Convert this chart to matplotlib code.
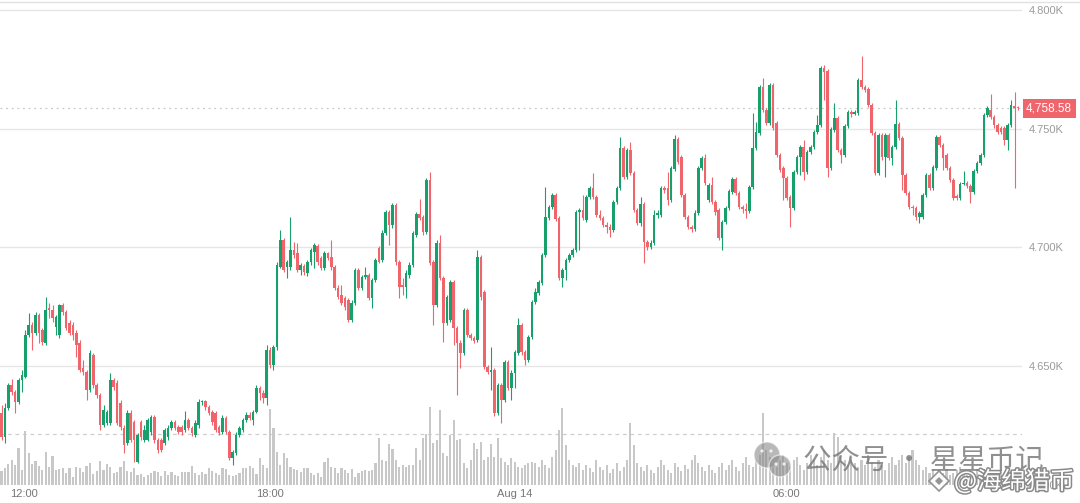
# %%
import numpy as np
import matplotlib.pyplot as plt
from matplotlib import patches, patheffects
from matplotlib.transforms import blended_transform_factory

plt.rcParams["font.family"] = ["Liberation Sans", "Noto Sans CJK SC", "DejaVu Sans"]

# %% Data (5 min candles)
opens = [
    4630.2, 4620.1, 4632.3, 4642.0, 4639.1, 4634.9, 4644.1, 4645.4, 4663.1, 4667.3,
    4663.9, 4671.5, 4665.2, 4659.7, 4674.4, 4673.6, 4666.4, 4663.1, 4675.7, 4672.8,
    4668.1, 4667.3, 4663.9, 4659.7, 4649.1, 4647.5, 4639.9, 4654.6, 4642.0, 4637.8,
    4625.2, 4626.0, 4626.0, 4644.1, 4642.8, 4634.4, 4623.9, 4617.5, 4630.2, 4626.5,
    4609.6, 4626.5, 4618.8, 4618.8, 4622.2, 4628.5, 4618.8, 4618.8, 4617.5, 4620.1,
    4623.9, 4626.5, 4624.3, 4624.3, 4623.0, 4627.3, 4623.9, 4621.0, 4625.2, 4634.9,
    4635.3, 4632.7, 4630.7, 4630.2, 4624.3, 4622.2, 4628.1, 4622.2, 4611.3, 4613.4,
    4621.0, 4623.0, 4627.3, 4629.4, 4627.3, 4630.7, 4640.7, 4638.6, 4636.5, 4656.7,
    4650.4, 4658.0, 4691.7, 4703.1, 4691.7, 4691.7, 4698.9, 4697.6, 4690.5, 4692.1,
    4689.2, 4693.8, 4698.0, 4700.6, 4695.5, 4691.3, 4697.6, 4695.9, 4691.7, 4682.9,
    4679.9, 4678.7, 4677.8, 4669.4, 4676.6, 4690.5, 4682.9, 4687.5, 4688.3, 4678.7,
    4686.2, 4699.7, 4694.7, 4706.0, 4714.9, 4709.4, 4717.8, 4693.8, 4684.1, 4683.3,
    4688.3, 4692.6, 4705.2, 4714.0, 4712.8, 4706.5, 4728.4, 4693.8, 4675.7, 4701.8,
    4687.1, 4668.1, 4669.4, 4685.4, 4666.0, 4659.7, 4655.5, 4673.6, 4663.1, 4661.8,
    4661.0, 4695.9, 4681.2, 4649.6, 4647.5, 4648.3, 4630.2, 4642.0, 4635.7, 4651.7,
    4640.7, 4647.0, 4655.5, 4667.3, 4655.9, 4652.5, 4662.3, 4676.9, 4680.8, 4685.0,
    4696.8, 4712.4, 4717.0, 4722.0, 4712.4, 4687.1, 4690.5, 4694.7, 4696.8, 4698.9,
    4714.9, 4715.7, 4711.5, 4721.2, 4725.0, 4721.2, 4713.6, 4712.4, 4709.4, 4708.6,
    4707.3, 4719.1, 4725.0, 4741.8, 4729.6, 4741.0, 4731.3, 4715.7, 4710.3, 4718.3,
    4702.2, 4700.1, 4701.8, 4713.6, 4713.6, 4725.0, 4725.0, 4719.9, 4733.0, 4745.6,
    4738.1, 4722.0, 4712.8, 4708.6, 4707.7, 4714.5, 4733.4, 4737.6, 4719.9, 4726.3,
    4719.1, 4715.7, 4703.9, 4710.7, 4716.6, 4723.3, 4728.8, 4722.9, 4717.0, 4716.1,
    4715.3, 4725.4, 4741.8, 4748.2, 4767.5, 4757.9, 4752.4, 4768.4, 4752.4, 4738.9,
    4733.4, 4729.2, 4721.2, 4716.6, 4731.7, 4738.1, 4742.3, 4731.7, 4740.2, 4742.3,
    4748.6, 4751.5, 4775.6, 4774.3, 4733.4, 4749.4, 4754.5, 4741.0, 4738.9, 4751.1,
    4757.0, 4756.2, 4756.6, 4770.5, 4767.5, 4766.7, 4760.0, 4748.2, 4731.3, 4747.3,
    4738.1, 4747.3, 4737.6, 4742.3, 4752.0, 4746.1, 4730.5, 4722.9, 4717.0, 4716.6,
    4712.8, 4712.8, 4722.0, 4730.5, 4725.0, 4733.4, 4746.5, 4743.1, 4738.9, 4733.4,
    4728.4, 4721.6, 4720.8, 4726.7, 4727.1, 4725.8, 4723.3, 4732.2, 4735.5, 4738.9,
    4755.7, 4757.9, 4754.9, 4751.5, 4750.3, 4750.3, 4745.2, 4751.5, 4759.5, 4759.1,
]
closes = [
    4620.1, 4632.3, 4642.0, 4639.1, 4634.9, 4644.1, 4646.2, 4663.1, 4667.3, 4663.9,
    4671.5, 4663.9, 4660.2, 4673.6, 4673.6, 4670.2, 4670.6, 4675.7, 4672.8, 4666.0,
    4663.9, 4663.1, 4658.9, 4648.3, 4647.5, 4639.9, 4655.5, 4642.0, 4637.8, 4625.2,
    4631.5, 4630.7, 4644.1, 4641.2, 4626.0, 4624.3, 4616.7, 4630.2, 4618.8, 4618.8,
    4621.0, 4620.1, 4623.0, 4627.3, 4628.5, 4618.8, 4614.6, 4614.6, 4623.0, 4623.9,
    4626.5, 4623.9, 4622.2, 4622.2, 4627.3, 4623.9, 4621.8, 4626.0, 4634.9, 4635.3,
    4632.7, 4630.2, 4626.5, 4623.0, 4621.8, 4628.1, 4622.2, 4611.3, 4613.8, 4621.0,
    4623.9, 4627.3, 4629.4, 4628.1, 4630.7, 4640.7, 4638.6, 4636.5, 4656.7, 4650.4,
    4658.0, 4692.6, 4703.1, 4690.5, 4693.8, 4698.9, 4696.8, 4690.5, 4692.6, 4689.6,
    4693.8, 4698.9, 4701.0, 4693.8, 4691.3, 4697.6, 4695.5, 4691.7, 4682.9, 4679.1,
    4676.6, 4674.8, 4669.4, 4676.6, 4690.5, 4682.9, 4687.5, 4688.3, 4678.7, 4686.2,
    4694.7, 4693.8, 4706.0, 4714.9, 4709.4, 4717.8, 4693.8, 4683.3, 4683.3, 4689.2,
    4692.6, 4706.0, 4714.0, 4712.4, 4706.5, 4728.4, 4693.4, 4675.7, 4701.8, 4687.1,
    4668.1, 4679.1, 4685.4, 4666.0, 4659.7, 4655.5, 4673.6, 4663.1, 4661.8, 4660.6,
    4695.9, 4679.1, 4649.6, 4647.5, 4648.3, 4630.2, 4642.0, 4635.7, 4651.7, 4640.7,
    4647.0, 4655.9, 4667.3, 4655.9, 4652.5, 4662.3, 4676.9, 4681.2, 4685.4, 4696.8,
    4712.8, 4717.0, 4722.0, 4711.9, 4687.1, 4690.5, 4694.7, 4696.8, 4698.9, 4714.9,
    4715.7, 4712.4, 4721.2, 4725.0, 4721.2, 4713.6, 4712.4, 4709.4, 4708.6, 4707.3,
    4719.1, 4725.0, 4741.8, 4729.6, 4741.0, 4731.3, 4715.7, 4710.3, 4718.3, 4702.2,
    4700.1, 4701.8, 4713.6, 4714.5, 4725.0, 4724.2, 4719.9, 4733.4, 4745.6, 4735.9,
    4722.0, 4712.8, 4708.6, 4707.7, 4714.5, 4733.4, 4737.6, 4727.1, 4726.3, 4719.1,
    4714.9, 4703.9, 4710.7, 4716.6, 4723.7, 4728.8, 4722.9, 4717.0, 4716.1, 4715.3,
    4725.4, 4741.8, 4748.6, 4767.5, 4757.9, 4752.4, 4768.4, 4750.3, 4738.9, 4732.6,
    4729.2, 4720.8, 4716.6, 4731.7, 4738.1, 4742.3, 4731.7, 4740.2, 4742.3, 4748.6,
    4751.5, 4775.6, 4773.9, 4733.4, 4749.9, 4754.5, 4741.0, 4738.9, 4751.1, 4757.0,
    4756.2, 4757.0, 4770.5, 4767.5, 4766.3, 4760.0, 4748.2, 4731.3, 4747.3, 4738.1,
    4747.3, 4737.6, 4742.3, 4752.0, 4746.1, 4730.5, 4722.9, 4717.0, 4716.6, 4712.8,
    4714.5, 4722.0, 4730.5, 4725.0, 4733.8, 4746.5, 4743.1, 4737.6, 4733.4, 4728.4,
    4720.8, 4720.8, 4726.7, 4727.1, 4725.8, 4723.3, 4732.2, 4735.5, 4738.9, 4755.7,
    4758.7, 4754.9, 4751.5, 4748.6, 4748.6, 4745.2, 4751.5, 4760.0, 4758.7, 4758.58,
]
highs = [
    4633.6, 4634.4, 4642.8, 4644.5, 4639.9, 4644.9, 4648.3, 4665.2, 4672.3, 4668.5,
    4672.8, 4672.3, 4666.0, 4679.1, 4676.6, 4675.7, 4671.5, 4676.1, 4676.6, 4673.6,
    4669.4, 4668.5, 4665.2, 4661.0, 4652.5, 4648.3, 4656.7, 4655.5, 4642.8, 4638.6,
    4633.6, 4631.5, 4647.0, 4644.9, 4644.1, 4635.7, 4625.2, 4631.5, 4631.5, 4627.3,
    4621.8, 4627.3, 4625.2, 4628.1, 4629.4, 4629.4, 4619.7, 4619.7, 4623.9, 4625.2,
    4627.3, 4627.3, 4625.2, 4625.2, 4631.1, 4628.1, 4624.7, 4627.3, 4636.1, 4635.7,
    4635.7, 4633.6, 4631.5, 4631.1, 4625.2, 4629.4, 4628.9, 4623.0, 4614.6, 4622.2,
    4624.7, 4628.1, 4630.7, 4630.7, 4631.5, 4642.0, 4641.6, 4639.9, 4658.9, 4658.0,
    4658.9, 4693.8, 4707.3, 4703.9, 4694.7, 4712.8, 4702.2, 4701.8, 4693.4, 4693.0,
    4694.7, 4699.7, 4701.8, 4701.4, 4696.3, 4698.5, 4698.0, 4703.1, 4692.6, 4684.1,
    4684.1, 4679.5, 4678.7, 4677.8, 4691.3, 4691.3, 4688.3, 4691.7, 4689.2, 4687.1,
    4695.5, 4700.6, 4707.3, 4715.7, 4715.7, 4718.7, 4718.7, 4694.7, 4687.1, 4690.5,
    4693.8, 4706.9, 4714.9, 4720.4, 4713.6, 4729.2, 4731.7, 4694.7, 4703.1, 4705.2,
    4687.9, 4679.9, 4686.2, 4686.2, 4666.9, 4661.0, 4674.4, 4674.4, 4663.9, 4662.7,
    4698.9, 4696.8, 4682.0, 4650.4, 4658.0, 4649.1, 4642.8, 4642.8, 4652.5, 4652.5,
    4648.3, 4656.7, 4670.2, 4668.1, 4656.7, 4663.1, 4677.8, 4682.9, 4686.2, 4697.6,
    4725.4, 4717.8, 4722.9, 4722.9, 4713.2, 4691.3, 4695.5, 4697.6, 4699.7, 4715.7,
    4716.6, 4722.0, 4722.0, 4725.8, 4731.3, 4722.0, 4715.7, 4713.2, 4710.7, 4709.9,
    4719.9, 4725.8, 4746.5, 4742.7, 4741.8, 4744.4, 4732.2, 4716.6, 4721.2, 4719.1,
    4703.1, 4703.1, 4715.7, 4715.7, 4725.8, 4725.8, 4731.7, 4734.3, 4747.3, 4746.5,
    4738.9, 4722.9, 4713.6, 4709.4, 4715.7, 4734.3, 4738.5, 4739.3, 4727.1, 4729.6,
    4719.9, 4716.6, 4711.5, 4717.4, 4724.6, 4729.6, 4729.6, 4723.7, 4717.8, 4718.7,
    4726.3, 4756.6, 4752.8, 4768.4, 4771.3, 4758.7, 4769.2, 4769.2, 4753.2, 4739.7,
    4734.3, 4730.0, 4722.0, 4732.6, 4738.9, 4743.1, 4745.2, 4741.0, 4743.1, 4749.4,
    4755.7, 4776.4, 4776.8, 4775.1, 4750.7, 4760.8, 4755.3, 4741.8, 4751.9, 4757.9,
    4757.9, 4757.9, 4771.3, 4780.6, 4768.4, 4767.5, 4760.8, 4749.0, 4748.2, 4748.2,
    4748.2, 4748.2, 4743.1, 4762.1, 4752.8, 4746.9, 4731.3, 4723.7, 4717.8, 4717.4,
    4715.3, 4722.9, 4731.3, 4731.3, 4734.7, 4747.3, 4747.3, 4743.9, 4739.7, 4734.3,
    4729.2, 4722.5, 4727.5, 4732.2, 4727.9, 4726.7, 4733.0, 4736.4, 4739.7, 4756.6,
    4759.5, 4764.6, 4755.7, 4752.4, 4751.1, 4751.1, 4752.4, 4762.1, 4765.4, 4759.5,
]
lows = [
    4618.8, 4617.5, 4631.5, 4637.8, 4630.2, 4634.0, 4639.1, 4644.9, 4662.3, 4656.7,
    4663.1, 4659.7, 4658.9, 4658.9, 4670.2, 4668.5, 4663.1, 4661.8, 4671.5, 4665.2,
    4663.1, 4661.0, 4653.8, 4647.5, 4646.2, 4635.7, 4639.1, 4640.7, 4636.5, 4623.0,
    4624.3, 4625.2, 4625.2, 4639.9, 4625.2, 4623.0, 4613.4, 4616.7, 4618.0, 4609.6,
    4609.1, 4618.8, 4618.0, 4618.4, 4621.0, 4617.5, 4613.4, 4613.8, 4616.7, 4618.8,
    4623.0, 4623.0, 4621.4, 4621.0, 4622.2, 4623.0, 4620.5, 4620.1, 4623.9, 4633.6,
    4631.5, 4629.4, 4625.2, 4622.2, 4621.0, 4621.4, 4621.4, 4610.4, 4608.3, 4612.5,
    4620.1, 4622.2, 4626.5, 4627.3, 4625.2, 4630.2, 4635.7, 4634.4, 4633.6, 4649.1,
    4648.3, 4656.7, 4691.3, 4689.6, 4687.1, 4690.5, 4695.5, 4689.6, 4688.3, 4688.3,
    4687.9, 4692.6, 4691.3, 4692.6, 4690.5, 4690.5, 4694.7, 4690.5, 4682.0, 4678.2,
    4675.7, 4673.6, 4668.5, 4668.5, 4675.7, 4682.0, 4682.0, 4686.7, 4677.8, 4674.4,
    4685.4, 4693.4, 4693.8, 4705.2, 4701.0, 4708.1, 4692.6, 4678.7, 4679.9, 4678.7,
    4687.1, 4691.7, 4704.3, 4711.5, 4705.2, 4705.6, 4692.6, 4667.3, 4674.8, 4686.2,
    4660.2, 4667.3, 4668.5, 4658.9, 4637.8, 4649.1, 4654.6, 4662.3, 4661.0, 4659.7,
    4660.2, 4677.8, 4648.7, 4646.6, 4639.9, 4628.9, 4629.4, 4626.0, 4634.9, 4639.9,
    4635.7, 4640.7, 4654.6, 4654.6, 4650.4, 4651.7, 4661.4, 4676.1, 4679.9, 4684.1,
    4695.9, 4711.5, 4716.1, 4711.1, 4686.2, 4683.3, 4686.2, 4693.8, 4695.9, 4698.0,
    4698.9, 4711.5, 4710.7, 4720.4, 4720.4, 4712.8, 4711.5, 4708.6, 4706.0, 4704.3,
    4706.5, 4718.3, 4724.2, 4728.8, 4728.8, 4730.5, 4714.9, 4709.4, 4709.0, 4693.4,
    4698.9, 4699.3, 4701.0, 4712.4, 4712.8, 4722.9, 4717.8, 4719.1, 4732.2, 4735.1,
    4721.2, 4711.9, 4707.7, 4706.5, 4706.9, 4713.6, 4732.6, 4726.3, 4719.1, 4718.3,
    4713.6, 4703.1, 4698.9, 4709.9, 4715.7, 4722.5, 4722.0, 4716.1, 4714.5, 4712.4,
    4714.5, 4724.6, 4741.0, 4747.3, 4757.0, 4751.5, 4751.5, 4749.4, 4738.1, 4731.7,
    4719.9, 4719.9, 4708.6, 4715.7, 4730.9, 4730.5, 4728.4, 4730.9, 4739.3, 4741.4,
    4747.7, 4750.7, 4762.1, 4729.6, 4732.6, 4748.6, 4740.2, 4735.5, 4738.1, 4750.3,
    4754.9, 4755.7, 4755.7, 4766.7, 4765.4, 4759.1, 4747.3, 4730.5, 4730.5, 4736.8,
    4729.6, 4736.8, 4734.7, 4741.4, 4745.2, 4724.2, 4722.0, 4716.1, 4713.6, 4711.5,
    4710.3, 4711.9, 4721.2, 4724.2, 4724.2, 4732.6, 4742.3, 4732.6, 4732.6, 4727.5,
    4719.9, 4719.9, 4719.9, 4726.3, 4725.0, 4718.7, 4722.5, 4731.3, 4734.7, 4738.1,
    4754.9, 4754.1, 4750.3, 4747.7, 4747.7, 4743.1, 4741.0, 4750.7, 4725.0, 4757.9,
]
volumes = [
    14, 17, 21, 25, 20, 37, 15, 54, 32, 21,
    24, 19, 15, 33, 18, 29, 15, 16, 17, 12,
    17, 8, 18, 17, 13, 19, 22, 11, 14, 24,
    15, 21, 18, 12, 13, 18, 24, 14, 13, 17,
    10, 11, 8, 10, 12, 14, 13, 9, 14, 10,
    13, 10, 9, 13, 13, 13, 19, 12, 10, 13,
    11, 17, 14, 12, 10, 17, 16, 10, 9, 10,
    12, 17, 17, 19, 17, 11, 27, 20, 17, 76,
    57, 33, 20, 32, 27, 18, 16, 15, 13, 17,
    17, 12, 10, 12, 8, 23, 27, 18, 17, 12,
    17, 15, 12, 16, 8, 12, 14, 15, 14, 15,
    22, 47, 25, 24, 41, 36, 25, 18, 20, 18,
    20, 20, 37, 25, 47, 51, 78, 42, 45, 75,
    32, 29, 50, 65, 45, 46, 22, 17, 25, 42,
    36, 43, 25, 28, 41, 28, 47, 27, 23, 20,
    27, 23, 18, 17, 20, 22, 23, 22, 18, 25,
    20, 17, 28, 35, 55, 77, 40, 25, 20, 18,
    22, 15, 20, 17, 13, 25, 18, 15, 20, 12,
    16, 22, 14, 18, 25, 62, 40, 22, 18, 14,
    20, 15, 12, 18, 25, 20, 15, 12, 22, 18,
    14, 20, 16, 25, 30, 22, 18, 14, 20, 15,
    12, 18, 22, 15, 20, 25, 18, 14, 22, 28,
    20, 18, 25, 30, 72, 35, 28, 20, 18, 25,
    30, 22, 18, 25, 28, 20, 15, 22, 30, 25,
    20, 28, 35, 25, 22, 52, 48, 30, 25, 20,
    28, 22, 18, 25, 20, 30, 22, 18, 25, 20,
    15, 22, 28, 20, 25, 30, 22, 28, 35, 25,
    20, 15, 18, 12, 15, 10, 14, 12, 16, 10,
    12, 15, 18, 12, 10, 14, 12, 16, 10, 12,
    9, 14, 12, 10, 15, 12, 10, 14, 12, 18,
]
price_ticks = [4600, 4650, 4700, 4750, 4800]
price_labels = ["4.600K", "4.650K", "4.700K", "4.750K", "4.800K"]
time_ticks = [6.6, 79, 151, 231]
time_labels = ["12:00", "18:00", "Aug 14", "06:00"]
last_price = 4758.58
ref_level = 4621.4

GREEN = "#17a06c"
RED = "#f0646b"

# %% Figure
W, H = 1080, 503
fig = plt.figure(figsize=(W / 100, H / 100), dpi=100, facecolor="white")
rect = [0, 18 / H, 1022 / W, 485 / H]
axv = fig.add_axes(rect)
ax = fig.add_axes(rect, sharex=axv)
ax.patch.set_visible(False)

x = np.arange(len(closes))
o = np.array(opens)
c = np.array(closes)
hi = np.array(highs)
lo = np.array(lows)
up = c >= o
colors = np.where(up, GREEN, RED)

# volume
axv.bar(x, volumes, width=0.62, color="#c8c8c8", zorder=1)
axv.set_ylim(0, 485)
axv.axis("off")
tr = blended_transform_factory(axv.transAxes, ax.transData)
axv.plot([0, 1], [ref_level, ref_level], transform=tr, color="#cfcfcf",
         lw=0.9, ls=(0, (3, 3)), zorder=0.5)

# candles
ax.vlines(x, lo, hi, colors=colors, lw=0.8, zorder=3)
body_lo = np.minimum(o, c)
body_h = np.maximum(np.abs(c - o), 0.5)
ax.bar(x, body_h, bottom=body_lo, width=0.76, color=colors, zorder=4)

ax.set_xlim(-0.45, 300.2)
ax.set_ylim(4600, 4804.2)
for p in price_ticks[1:]:
    ax.axhline(p, color="#e6e6e6", lw=1, zorder=0)
ax.axhline(last_price, color="#c8c8c8", lw=0.9, ls=(0, (1.5, 3)), zorder=2)

ax.yaxis.tick_right()
ax.set_yticks(price_ticks)
ax.set_yticklabels(price_labels)
ax.tick_params(axis="y", length=0, pad=5, labelcolor="#9b9b9b", labelsize=8)
ax.set_xticks(time_ticks)
ax.set_xticklabels(time_labels)
ax.tick_params(axis="x", length=0, pad=3, labelcolor="#777777", labelsize=8)
for s in ax.spines.values():
    s.set_visible(False)

ax.text(1.004, last_price, "4,758.58", transform=blended_transform_factory(ax.transAxes, ax.transData),
        ha="left", va="center", color="white", fontsize=8.5, clip_on=False, zorder=6,
        bbox=dict(boxstyle="square,pad=0.3", fc=RED, ec="none"))

# %% overlay: top border and watermarks
ov = fig.add_axes([0, 0, 1, 1])
ov.set_xlim(0, W)
ov.set_ylim(H, 0)
ov.axis("off")
ov.patch.set_visible(False)
ov.plot([0, W], [1.5, 1.5], color="#e2e2e2", lw=1)

ov.add_patch(patches.Circle((767, 455), 13, fc="#8a8a8a", ec="white", lw=1, alpha=0.6))
ov.add_patch(patches.Circle((780, 466), 11, fc="#8a8a8a", ec="white", lw=1, alpha=0.6))
for ex, ey in [(762, 451), (771, 451), (776, 464), (784, 464)]:
    ov.add_patch(patches.Circle((ex, ey), 1.6, fc="white", ec="none", alpha=0.8))
ov.text(803, 461, "公众号 · 星星币记", fontsize=20.5, color="#747474", alpha=0.8,
        va="center", ha="left", family=["Noto Sans CJK SC", "DejaVu Sans"])

ov.add_patch(patches.RegularPolygon((939, 481), 4, radius=10, fc="white", ec="#8a8a8a",
                                    lw=1.2, alpha=0.9))
ov.add_patch(patches.RegularPolygon((939, 481), 4, radius=4, fc="#8a8a8a", ec="none", alpha=0.9))
t = ov.text(954, 482, "@海绵猎币", fontsize=17.5, color="white", va="center", ha="left",
            family=["Noto Sans CJK SC", "DejaVu Sans"])
t.set_path_effects([patheffects.Stroke(linewidth=2.2, foreground="#8a8a8a"), patheffects.Normal()])

fig.savefig("out.png", dpi=100, facecolor="white")
